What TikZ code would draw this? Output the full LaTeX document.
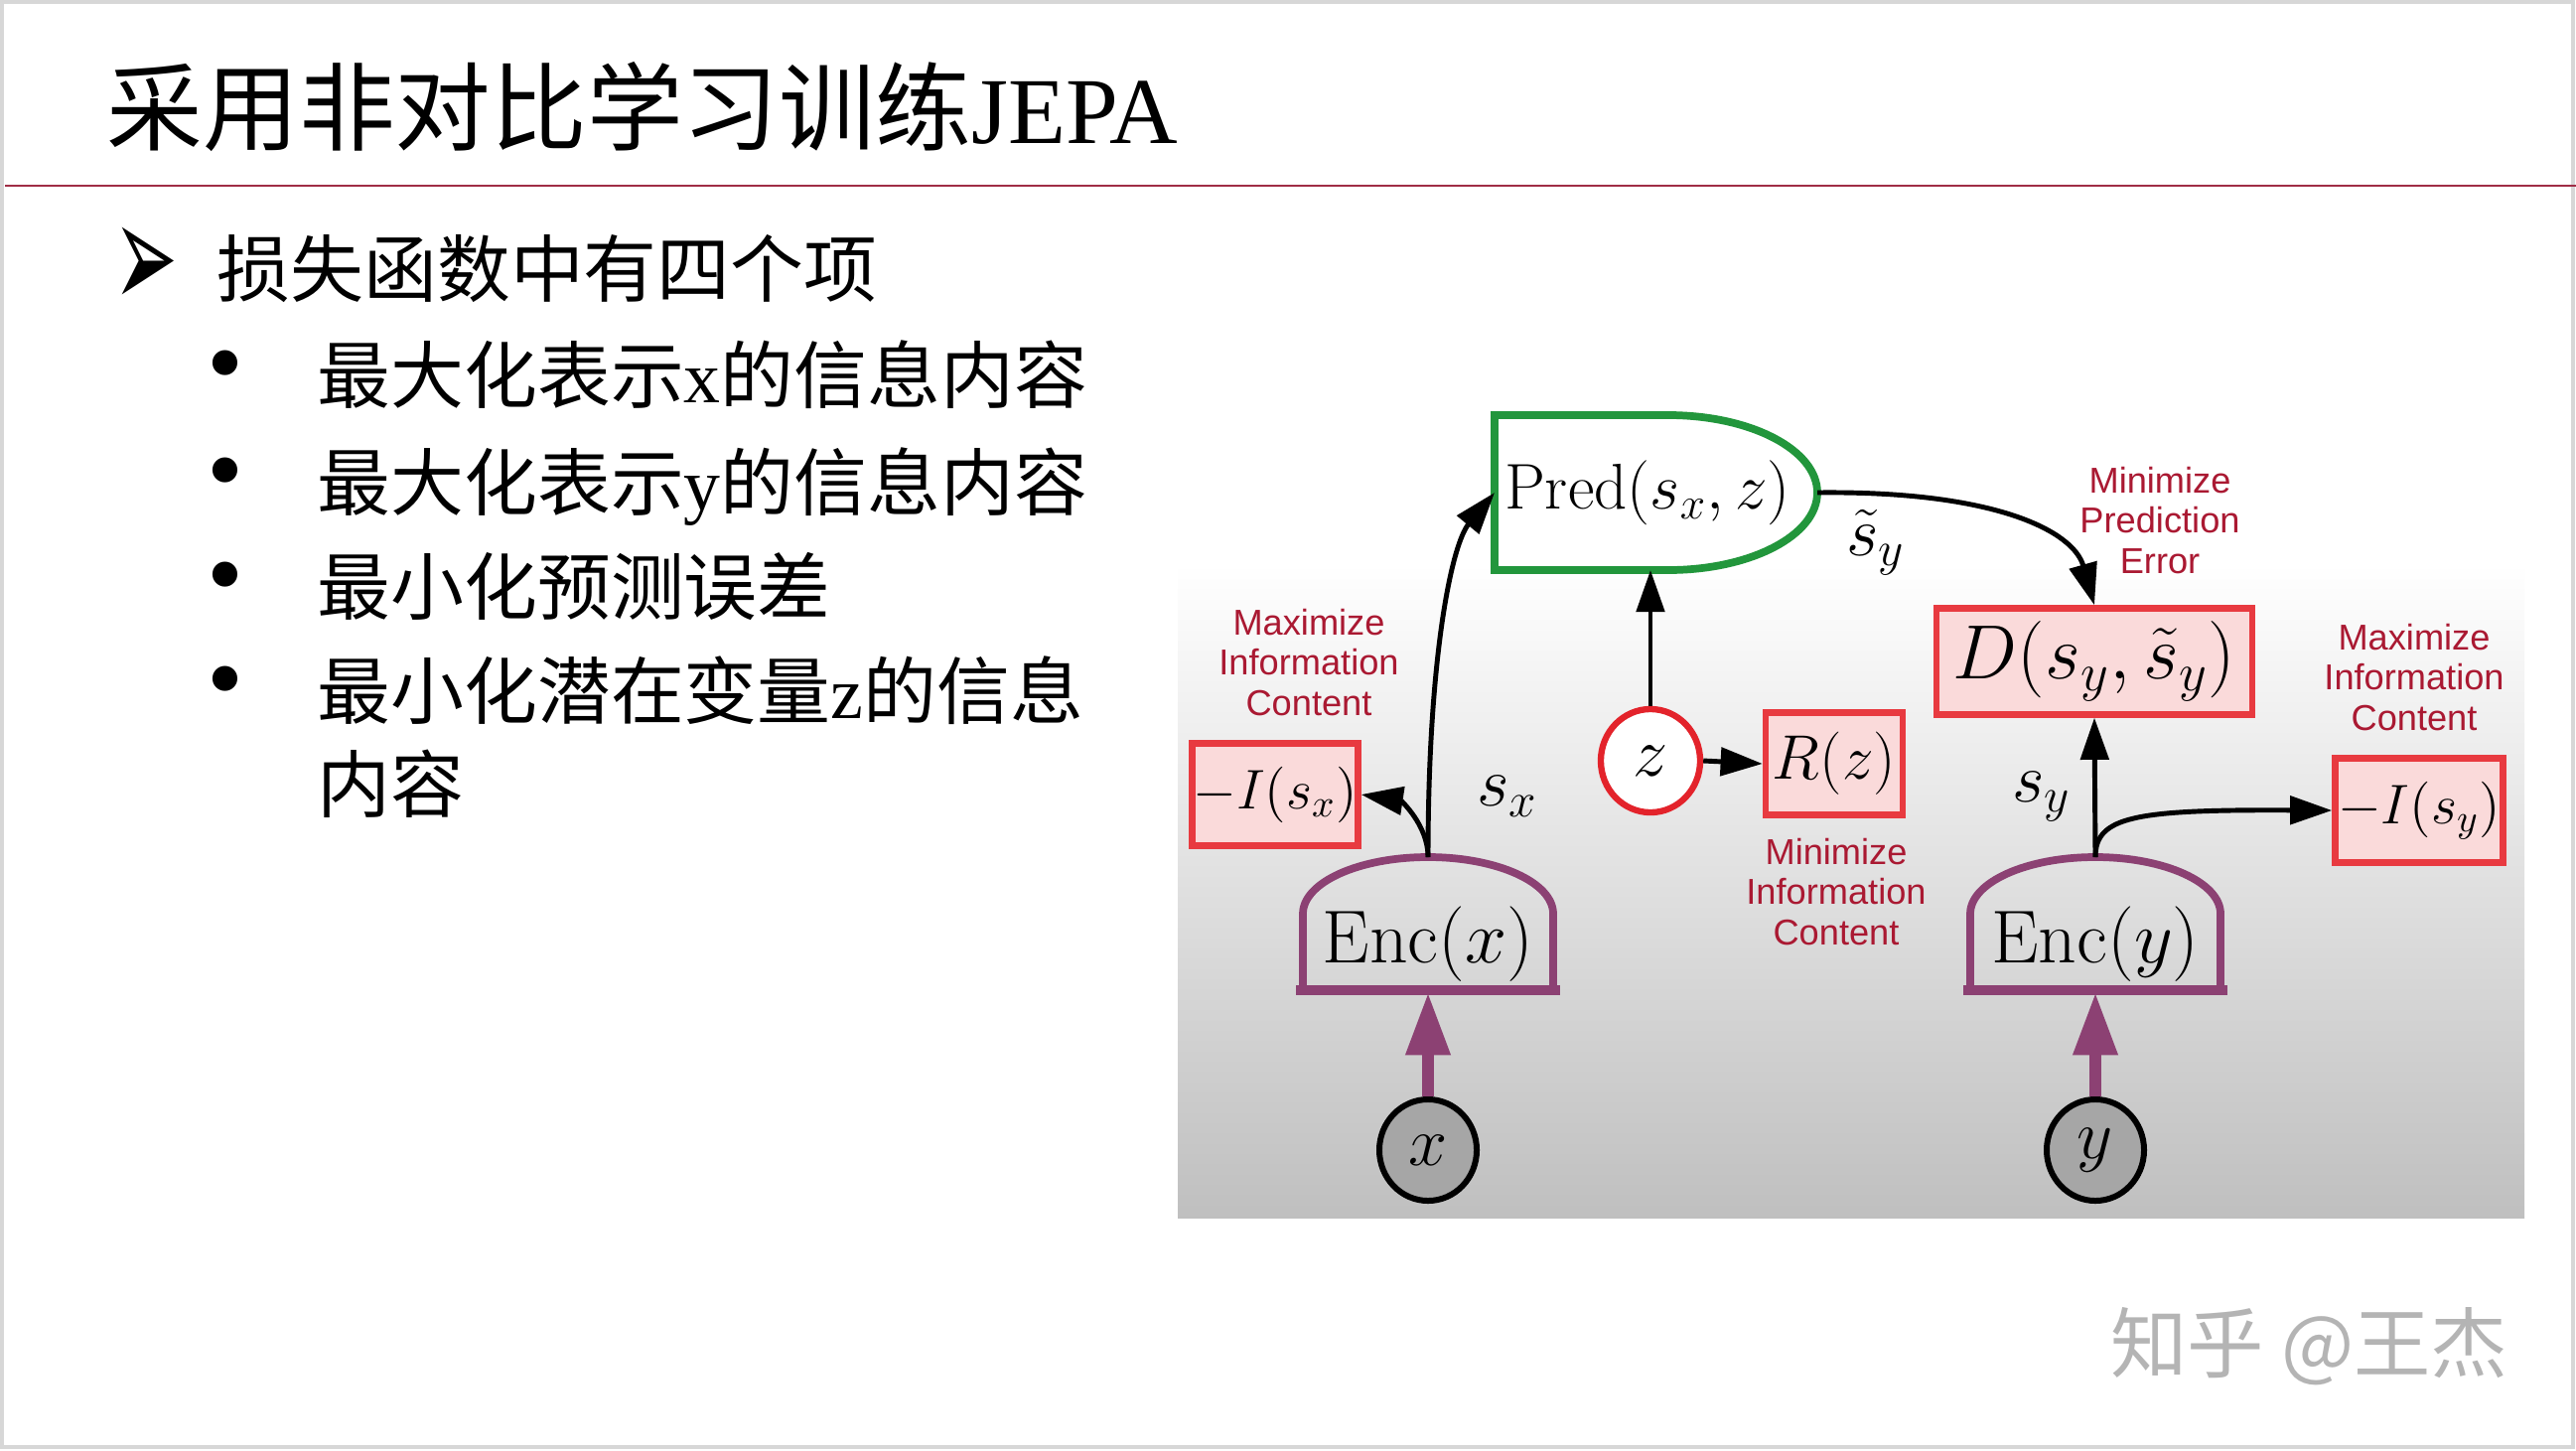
\RequirePackage{fix-cm}
\documentclass[tikz,border=0pt]{standalone}
\usepackage[no-math]{fontspec}
\usetikzlibrary{arrows.meta,shapes.geometric}
\newfontfamily\cjk{Noto Sans CJK SC}
\newfontfamily\serifLat{Liberation Serif}
\newfontfamily\sansLat{Liberation Sans}
\newfontfamily\dejavu{DejaVu Sans}
\definecolor{titleline}{RGB}{160,45,70}
\definecolor{lblred}{RGB}{170,25,50}
\definecolor{boxfill}{RGB}{250,218,218}
\definecolor{boxline}{RGB}{232,58,64}
\definecolor{zred}{RGB}{227,35,43}
\definecolor{predgreen}{RGB}{34,150,60}
\definecolor{encpurple}{RGB}{140,65,115}
\definecolor{obsgray}{RGB}{166,166,166}
\definecolor{wmgray}{RGB}{180,180,180}
\definecolor{framegray}{RGB}{215,215,215}
\tikzset{
  lossbox/.style={draw=boxline, fill=boxfill, line width=1.8pt, inner sep=0pt},
  lbl/.style={text=lblred, font=\sansLat\fontsize{10.3}{11.5}\selectfont, align=center, inner sep=0pt},
  arr/.style={line width=1.4pt, -{Triangle[length=12pt,width=8pt]}},
  inarr/.style={draw=encpurple, line width=3.5pt, -{Triangle[length=18pt,width=12pt]}},
  obs/.style={ellipse, draw=black, line width=1.7pt, fill=obsgray, minimum width=0.98cm, minimum height=1.02cm, inner sep=0pt, font=\fontsize{20}{24}\selectfont},
  mathtxt/.style={font=\fontsize{20}{24}\selectfont, inner sep=0pt},
  bodytxt/.style={anchor=base west, inner sep=0pt, font=\cjk\fontsize{21}{25}\selectfont},
  bulletmark/.style={anchor=center, inner sep=0pt, font=\serifLat\fontsize{30}{34}\selectfont}
}
\begin{document}
\begin{tikzpicture}[x=0.01cm, y=-0.01cm]
\useasboundingbox (0,0) rectangle (2594,1460);
\fill[white] (0,0) rectangle (2594,1460);
\draw[framegray, line width=1.2pt] (2,2) rectangle (2591,1457);

% title
\node[anchor=base west, inner sep=0pt, font=\cjk\fontsize{27.5}{32}\selectfont] (title) at (107,144)
  {采用非对比学习训练{\serifLat\fontsize{27}{32}\selectfont JEPA}};
\draw[titleline, line width=0.6pt] (5,187) -- (2594,187);

% text
\node[anchor=center, inner sep=0pt, font=\dejavu\fontsize{22}{26}\selectfont] (hbul) at (147,270) {\scalebox{1}[2]{➢}};
\node[bodytxt] (head) at (218,298) {损失函数中有四个项};
\node[bulletmark] (b1) at (227,377) {•};
\node[bulletmark] (b2) at (227,485) {•};
\node[bulletmark] (b3) at (227,590) {•};
\node[bulletmark] (b4) at (227,695) {•};
\node[bodytxt] (t1) at (319,405) {最大化表示{\serifLat x}的信息内容};
\node[bodytxt] (t2) at (319,513) {最大化表示{\serifLat y}的信息内容};
\node[bodytxt] (t3) at (319,618) {最小化预测误差};
\node[bodytxt] (t4) at (319,723) {最小化潜在变量{\serifLat z}的信息};
\node[bodytxt] (t5) at (319,817) {内容};

% diagram background
\shade[top color=white, middle color=gray!10, bottom color=gray!50] (1186,567) rectangle (2542,1226);

% Pred
\draw[predgreen, line width=2.2pt] (1505,418) -- (1505,574) -- (1680,574)
  arc[start angle=90, end angle=-90, x radius=150, y radius=78] -- cycle;
\node[font=\fontsize{18.5}{22}\selectfont, inner sep=0pt] (pred) at (1659,496) {$\mathrm{Pred}(s_x, z)$};
\coordinate (predW) at (1505,496);
\coordinate (predS) at (1662,574);
\coordinate (predE) at (1830,496);

% encoders
\draw[encpurple, line width=2.2pt] (1312,997) -- (1312,920)
  arc[start angle=180, end angle=360, x radius=126, y radius=57] -- (1564,997);
\draw[encpurple, line width=3pt] (1305,997) -- (1571,997);
\node[font=\fontsize{21.5}{26}\selectfont, inner sep=0pt] (encx) at (1438,951) {$\mathrm{Enc}(x)$};
\coordinate (encxT) at (1438,863);
\coordinate (encxB) at (1438,999);

\draw[encpurple, line width=2.2pt] (1984,997) -- (1984,920)
  arc[start angle=180, end angle=360, x radius=126, y radius=57] -- (2236,997);
\draw[encpurple, line width=3pt] (1977,997) -- (2243,997);
\node[font=\fontsize{21.5}{26}\selectfont, inner sep=0pt] (ency) at (2110,951) {$\mathrm{Enc}(y)$};
\coordinate (encyT) at (2110,863);
\coordinate (encyB) at (2110,999);

% observed variables
\node[obs] (xin) at (1438,1158) {$x$};
\node[obs] (yin) at (2110,1158) {$y$};
\draw[inarr] (xin.north) -- (encxB);
\draw[inarr] (yin.north) -- (encyB);

% latent z and costs
\node[ellipse, draw=zred, line width=1.8pt, fill=white, minimum width=1.0cm, minimum height=1.04cm, inner sep=0pt, font=\fontsize{20}{24}\selectfont] (z) at (1662,766) {$z$};
\node[lossbox, minimum width=1.38cm, minimum height=1.03cm, font=\fontsize{18}{22}\selectfont] (R) at (1847,769) {$R(z)$};
\node[lossbox, minimum width=3.18cm, minimum height=1.07cm, font=\fontsize{22}{26}\selectfont] (D) at (2109,666) {$D(s_y, \tilde{s}_y)$};
\node[lossbox, minimum width=1.67cm, minimum height=1.03cm, font=\fontsize{16}{20}\selectfont] (Isx) at (1284,800) {$-I(s_x)$};
\node[lossbox, minimum width=1.69cm, minimum height=1.05cm, font=\fontsize{16}{20}\selectfont] (Isy) at (2436,816) {$-I(s_y)$};

% connectors
\draw[arr] (z.north) -- (predS);
\draw[arr] (z.east) -- (R.west);
\draw[arr] (encxT) .. controls (1438,660) and (1462,548) .. (predW);
\draw[arr] (encxT) .. controls (1438,830) and (1410,806) .. (Isx.east);
\draw[arr] (predE) .. controls (2010,494) and (2088,535) .. (D.north);
\draw[arr] (encyT) -- (D.south);
\draw[arr] (encyT) .. controls (2110,822) and (2150,815) .. (Isy.west);

% variable labels
\node[mathtxt] (sxl) at (1518,802) {$s_x$};
\node[mathtxt] (syl) at (2056,802) {$s_y$};
\node[mathtxt] (stl) at (1889,546) {$\tilde{s}_y$};

% cost labels
\node[lbl] (l1) at (1318,667) {Maximize\\Information\\Content};
\node[lbl] (l2) at (1849,898) {Minimize\\Information\\Content};
\node[lbl] (l3) at (2175,524) {Minimize\\Prediction\\Error};
\node[lbl] (l4) at (2431,682) {Maximize\\Information\\Content};

% watermark
\node[inner sep=0pt, font=\cjk\fontsize{22}{26}\selectfont, text=wmgray] (wm) at (2325,1356) {知乎 @王杰};
\end{tikzpicture}
\end{document}
